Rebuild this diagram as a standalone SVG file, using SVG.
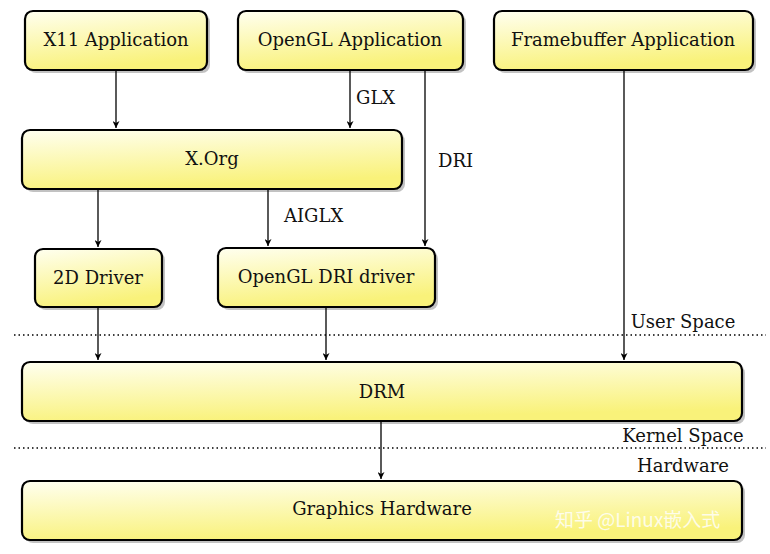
<svg xmlns="http://www.w3.org/2000/svg" width="770" height="554" viewBox="0 0 770 554">
<style>
.b{fill:url(#g);stroke:#000;stroke-width:2.2}
.s{fill:#999;opacity:.6}
text{font-family:"DejaVu Serif","Liberation Serif",serif;font-size:18px;fill:#111}
.c{text-anchor:middle}
.a{stroke:#000;stroke-width:1.3;fill:none;marker-end:url(#m)}
.d{stroke:#000;stroke-width:1.5;stroke-dasharray:1.5 3}
</style>
<defs>
<linearGradient id="g" x1="0" y1="0" x2="0.3" y2="1"><stop offset="0" stop-color="#fffff0"/><stop offset="1" stop-color="#f9f27a"/></linearGradient>
<marker id="m" viewBox="0 0 10 10" refX="10" refY="5" markerWidth="7" markerHeight="7" orient="auto" markerUnits="userSpaceOnUse"><path d="M0,0 L10,5 L0,10 L3,5 Z" fill="#000"/></marker>
</defs>
<g id="x11"><rect class="s" x="28" y="14" width="182" height="59" rx="8"/><rect class="b" x="25" y="11" width="182" height="59" rx="8"/><text class="c" x="116" y="46">X11 Application</text></g>
<g id="ogl"><rect class="s" x="241" y="14" width="225" height="59" rx="8"/><rect class="b" x="238" y="11" width="225" height="59" rx="8"/><text class="c" x="350" y="46">OpenGL Application</text></g>
<g id="fb"><rect class="s" x="497" y="14" width="259" height="59" rx="8"/><rect class="b" x="494" y="11" width="259" height="59" rx="8"/><text class="c" x="623" y="46">Framebuffer Application</text></g>
<g id="xorg"><rect class="s" x="25" y="133" width="380" height="59" rx="8"/><rect class="b" x="22" y="130" width="380" height="59" rx="8"/><text class="c" x="212" y="165">X.Org</text></g>
<g id="d2"><rect class="s" x="38" y="252" width="127" height="58" rx="8"/><rect class="b" x="35" y="249" width="127" height="58" rx="8"/><text class="c" x="98" y="284">2D Driver</text></g>
<g id="dri"><rect class="s" x="221" y="251" width="217" height="59" rx="8"/><rect class="b" x="218" y="248" width="217" height="59" rx="8"/><text class="c" x="326" y="283">OpenGL DRI driver</text></g>
<g id="drm"><rect class="s" x="25" y="365" width="720" height="59" rx="8"/><rect class="b" x="22" y="362" width="720" height="59" rx="8"/><text class="c" x="382" y="398">DRM</text></g>
<g id="hw"><rect class="s" x="25" y="484" width="720" height="59" rx="8"/><rect class="b" x="22" y="481" width="720" height="59" rx="8"/><text class="c" x="382" y="515">Graphics Hardware</text></g>
<g id="connectors">
<line class="a" x1="116" y1="70" x2="116" y2="128"/>
<line class="a" x1="350" y1="70" x2="350" y2="128"/>
<line class="a" x1="425" y1="70" x2="425" y2="246"/>
<line class="a" x1="98" y1="189" x2="98" y2="247"/>
<line class="a" x1="268" y1="189" x2="268" y2="246"/>
<line class="a" x1="98" y1="307" x2="98" y2="360"/>
<line class="a" x1="326" y1="307" x2="326" y2="360"/>
<line class="a" x1="624" y1="70" x2="624" y2="360"/>
<line class="a" x1="381" y1="421" x2="381" y2="479"/>
<line class="d" x1="14" y1="335" x2="766" y2="335"/>
<line class="d" x1="14" y1="448" x2="766" y2="448"/>
</g>
<text x="356" y="104">GLX</text>
<text x="438" y="167">DRI</text>
<text x="284" y="222">AIGLX</text>
<text class="c" x="683" y="328">User Space</text>
<text class="c" x="683" y="442">Kernel Space</text>
<text class="c" x="683" y="472">Hardware</text>
<text x="555" y="527" style="font-family:'Noto Sans CJK SC',sans-serif;font-size:19px;fill:#fff;opacity:.8">知乎 @Linux嵌入式</text>
</svg>
